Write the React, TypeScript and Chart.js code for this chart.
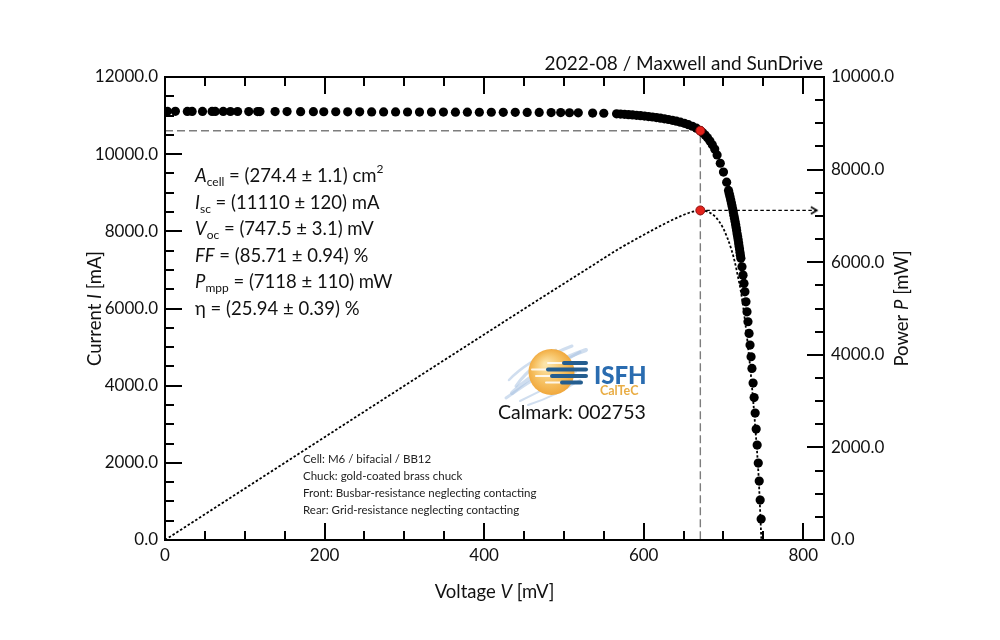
import React, { useEffect, useRef } from "react";
import { Chart, registerables } from "chart.js";

Chart.register(...registerables);

// ---- Data -------------------------------------------------------------------
// Measured I–V points (voltage in mV, current in mA)
const ivVoltage = [
  3, 13, 28, 34, 47, 59, 63, 73, 82, 91, 105, 116, 119, 138, 153, 170, 186, 199, 214, 229,
  244, 259, 274, 289, 304, 319, 334, 349, 364, 379, 394, 409, 424, 439, 454, 469, 484, 496,
  507, 518, 536, 550,
  566, 571, 576, 581, 586, 591, 596, 601, 606, 611, 616, 621, 626, 631, 636, 641, 646, 651,
  656, 661, 666, 671, 674, 677, 680, 683, 686, 689,
  692, 696, 700, 704,
  706.3, 707.2, 708.1, 709.0, 709.9, 710.7, 711.5, 712.3, 713.0, 713.8, 714.5, 715.2, 715.9,
  716.5, 717.1, 717.8, 718.4, 719.0, 719.5, 720.1, 720.7, 721.2, 721.8,
  723.2, 724.5, 725.7, 726.9, 728.2, 729.5, 730.7, 732.1, 733.3, 734.6, 735.7, 737.1, 738.4,
  739.7, 741.0, 742.2, 743.6, 744.8, 746.0, 747.2,
];
const ivCurrent = [
  11110, 11110, 11109, 11109, 11108, 11108, 11107, 11107, 11106, 11106, 11105, 11105, 11104,
  11104, 11103, 11102, 11101, 11100, 11099, 11098, 11097, 11096, 11095, 11094, 11093, 11092,
  11091, 11090, 11089, 11088, 11087, 11086, 11085, 11084, 11083, 11081, 11079, 11077, 11074,
  11071, 11066, 11060,
  11046, 11039, 11032, 11024, 11016, 11007, 10997, 10987, 10975, 10963, 10949, 10934, 10917,
  10898, 10878, 10855, 10829, 10800, 10765, 10724, 10673, 10608, 10557, 10496, 10424, 10340,
  10244, 10133,
  9980, 9765, 9535, 9275,
  9060, 8980, 8900, 8820, 8740, 8660, 8580, 8500, 8420, 8340, 8260, 8180, 8100, 8020, 7940,
  7860, 7780, 7700, 7620, 7540, 7460, 7380, 7300,
  7080, 6865, 6650, 6433, 6174, 5915, 5656, 5355, 5052, 4749, 4448, 4067, 3692, 3290, 2876,
  2461, 1995, 1528, 1036, 544,
];

// Power curve (voltage in mV, power in mW)
const powerVoltage = [
  0, 100, 200, 300, 400, 480, 530, 570, 600, 625, 645, 660, 671, 680, 688, 695, 700, 705, 710,
  714, 718, 721.5, 725, 730, 735, 740, 744, 747.5,
];
const powerValue = [
  0, 1111, 2221, 3331, 4438, 5320, 5865, 6300, 6590, 6820, 6985, 7085, 7118, 7090, 7010, 6870,
  6720, 6520, 6270, 6020, 5700, 5400, 5000, 4300, 3450, 2400, 1380, 0,
];

// Maximum power point
const mppVoltage = 671;
const mppCurrent = 10608;
const mppPower = 7118;
const arrowEndVoltage = 817;

// Axes
const voltageMin = 0;
const voltageMax = 826;
const currentMax = 12000;
const powerMax = 10000;
const voltageTicks = [0, 200, 400, 600, 800];
const currentTicks = [0, 2000, 4000, 6000, 8000, 10000, 12000];
const powerTicks = [0, 2000, 4000, 6000, 8000, 10000];

const FONT = "Lato, 'Open Sans', sans-serif";

type Seg = { t: string; style?: "i" | "sub" | "sup"; };

function drawRich(ctx: CanvasRenderingContext2D, segs: Seg[], x: number, y: number, size: number, align: "left" | "center" = "left") {
  const fontFor = (s: Seg) => {
    if (s.style === "i") return `italic ${size}px ${FONT}`;
    if (s.style === "sub" || s.style === "sup") return `${Math.round(size * 0.66)}px ${FONT}`;
    return `${size}px ${FONT}`;
  };
  let total = 0;
  for (const s of segs) {
    ctx.font = fontFor(s);
    total += ctx.measureText(s.t).width;
  }
  let cx = align === "center" ? x - total / 2 : x;
  ctx.textAlign = "left";
  ctx.textBaseline = "alphabetic";
  for (const s of segs) {
    ctx.font = fontFor(s);
    const dy = s.style === "sub" ? size * 0.22 : s.style === "sup" ? -size * 0.48 : 0;
    ctx.fillText(s.t, cx, y + dy);
    cx += ctx.measureText(s.t).width;
  }
}

const decorPlugin = {
  id: "decor",
  afterDraw(chart: any) {
    const { ctx, chartArea: a, scales } = chart;
    const xs = scales.x, ys = scales.y, ys2 = scales.y2;
    ctx.save();

    // frame
    ctx.strokeStyle = "#000";
    ctx.lineWidth = 2;
    ctx.strokeRect(a.left, a.top, a.right - a.left, a.bottom - a.top);

    // inward tick marks
    ctx.lineWidth = 2;
    ctx.beginPath();
    for (let v = 0; v <= 800; v += 50) {
      const px = Math.round(xs.getPixelForValue(v));
      const len = v % 200 === 0 ? 17 : 9;
      ctx.moveTo(px, a.bottom); ctx.lineTo(px, a.bottom - len);
      ctx.moveTo(px, a.top); ctx.lineTo(px, a.top + len);
    }
    for (let v = 0; v <= currentMax; v += 500) {
      const py = Math.round(ys.getPixelForValue(v));
      const len = v % 2000 === 0 ? 17 : 9;
      ctx.moveTo(a.left, py); ctx.lineTo(a.left + len, py);
    }
    for (let v = 0; v <= powerMax; v += 500) {
      const py = Math.round(ys2.getPixelForValue(v));
      const len = v % 2000 === 0 ? 17 : 9;
      ctx.moveTo(a.right, py); ctx.lineTo(a.right - len, py);
    }
    ctx.stroke();

    ctx.fillStyle = "#111";

    // title
    ctx.font = `19px ${FONT}`;
    ctx.textAlign = "right";
    ctx.textBaseline = "alphabetic";
    ctx.fillText("2022-08 / Maxwell and SunDrive", a.right - 1, 70);

    // axis titles
    drawRich(ctx, [{ t: "Voltage " }, { t: "V", style: "i" }, { t: " [mV]" }], (a.left + a.right) / 2, 598, 18.5, "center");
    const midY = (a.top + a.bottom) / 2;
    ctx.save();
    ctx.translate(101, midY);
    ctx.rotate(-Math.PI / 2);
    drawRich(ctx, [{ t: "Current " }, { t: "I", style: "i" }, { t: " [mA]" }], 0, 0, 18.5, "center");
    ctx.restore();
    ctx.save();
    ctx.translate(908, midY);
    ctx.rotate(-Math.PI / 2);
    drawRich(ctx, [{ t: "Power " }, { t: "P", style: "i" }, { t: " [mW]" }], 0, 0, 18.5, "center");
    ctx.restore();

    // parameter block
    const px0 = 195;
    const lines: Seg[][] = [
      [{ t: "A", style: "i" }, { t: "cell", style: "sub" }, { t: " = (274.4 ± 1.1) cm" }, { t: "2", style: "sup" }],
      [{ t: "I", style: "i" }, { t: "sc", style: "sub" }, { t: " = (11110 ± 120) mA" }],
      [{ t: "V", style: "i" }, { t: "oc", style: "sub" }, { t: " = (747.5 ± 3.1) mV" }],
      [{ t: "FF", style: "i" }, { t: " = (85.71 ± 0.94) %" }],
      [{ t: "P", style: "i" }, { t: "mpp", style: "sub" }, { t: " = (7118 ± 110) mW" }],
      [{ t: "η = (25.94 ± 0.39) %" }],
    ];
    lines.forEach((l, i) => drawRich(ctx, l, px0, 182 + i * 26.5, 18.5));

    // logo
    ctx.save();
    ctx.lineCap = "round";
    ctx.strokeStyle = "#A9C3E2";
    const strokes = [
      [506, 398, 540, 374, 580, 352, 3],
      [512, 393, 540, 366, 586, 350, 4],
      [516, 386, 534, 360, 572, 346, 3],
      [520, 401, 548, 388, 576, 372, 2],
      [509, 380, 526, 362, 556, 350, 2.5],
      [528, 405, 556, 396, 580, 380, 2],
    ];
    for (const s of strokes) {
      ctx.globalAlpha = 0.55;
      ctx.lineWidth = s[6];
      ctx.beginPath();
      ctx.moveTo(s[0], s[1]);
      ctx.quadraticCurveTo(s[2], s[3], s[4], s[5]);
      ctx.stroke();
    }
    ctx.globalAlpha = 1;
    const g = ctx.createRadialGradient(546, 364, 2, 551, 372, 24);
    g.addColorStop(0, "#FCE4A8");
    g.addColorStop(0.6, "#F6C061");
    g.addColorStop(1, "#F0A63A");
    ctx.fillStyle = g;
    ctx.beginPath();
    ctx.arc(551.5, 372, 23, 0, Math.PI * 2);
    ctx.fill();
    const bars = [
      [363, 548, 586],
      [369.5, 532, 586],
      [376, 536, 586],
      [382.5, 546, 581],
    ];
    for (const b of bars) {
      ctx.strokeStyle = "rgba(255,255,255,0.85)";
      ctx.lineWidth = 2;
      ctx.beginPath();
      ctx.moveTo(b[1], b[0]); ctx.lineTo(b[1] + 16, b[0]);
      ctx.stroke();
      ctx.strokeStyle = "#245D8F";
      ctx.lineWidth = 4;
      ctx.beginPath();
      ctx.moveTo(b[1] + 16, b[0]); ctx.lineTo(b[2], b[0]);
      ctx.stroke();
    }
    ctx.textAlign = "left";
    ctx.fillStyle = "#2A6CB0";
    ctx.font = `900 24px ${FONT}`;
    ctx.fillText("ISFH", 594, 384);
    ctx.fillStyle = "#E9AD45";
    ctx.font = `bold 12.5px ${FONT}`;
    ctx.fillText("CalTeC", 600, 395);
    ctx.restore();

    ctx.fillStyle = "#111";
    ctx.textAlign = "left";
    ctx.font = `19.5px ${FONT}`;
    ctx.fillText("Calmark: 002753", 498, 419);

    // notes
    ctx.font = `11.5px ${FONT}`;
    ctx.fillStyle = "#222";
    const notes = [
      "Cell: M6 / bifacial / BB12",
      "Chuck: gold-coated brass chuck",
      "Front: Busbar-resistance neglecting contacting",
      "Rear: Grid-resistance neglecting contacting",
    ];
    notes.forEach((n, i) => ctx.fillText(n, 303, 463 + i * 17));

    ctx.restore();
  },
};

export default function App() {
  const ref = useRef<HTMLCanvasElement | null>(null);

  useEffect(() => {
    if (!ref.current) return;

    const arrowHead = document.createElement("canvas");
    arrowHead.width = 14;
    arrowHead.height = 10;
    const actx = arrowHead.getContext("2d")!;
    actx.strokeStyle = "#000";
    actx.lineWidth = 1.6;
    actx.beginPath();
    actx.moveTo(1, 1.5);
    actx.lineTo(7, 5);
    actx.lineTo(1, 8.5);
    actx.stroke();

    const ivPoints = ivVoltage.map((v, i) => ({ x: v, y: ivCurrent[i] }));
    const powerPoints = powerVoltage.map((v, i) => ({ x: v, y: powerValue[i] }));

    const chart = new Chart(ref.current, {
      type: "scatter",
      data: {
        datasets: [
          {
            label: "MPP current",
            data: [{ x: mppVoltage, y: mppCurrent }],
            yAxisID: "y",
            pointRadius: 4.5,
            pointBackgroundColor: "#E3221B",
            pointBorderColor: "#8E1010",
            pointBorderWidth: 1,
            showLine: false,
            order: 0,
          },
          {
            label: "MPP power",
            data: [{ x: mppVoltage, y: mppPower }],
            yAxisID: "y2",
            pointRadius: 4.5,
            pointBackgroundColor: "#E3221B",
            pointBorderColor: "#8E1010",
            pointBorderWidth: 1,
            showLine: false,
            order: 0,
          },
          {
            label: "I-V",
            data: ivPoints,
            yAxisID: "y",
            pointRadius: 4.6,
            pointBackgroundColor: "#000",
            pointBorderColor: "#000",
            pointBorderWidth: 0,
            showLine: false,
            order: 1,
          },
          {
            label: "arrow",
            data: [{ x: mppVoltage, y: mppPower }, { x: arrowEndVoltage, y: mppPower }],
            yAxisID: "y2",
            showLine: true,
            borderColor: "#000",
            borderWidth: 1.2,
            borderDash: [3.5, 2.5],
            pointRadius: (c: any) => (c.dataIndex === 1 ? 5 : 0),
            pointStyle: (c: any) => (c.dataIndex === 1 ? arrowHead : "circle"),
            order: 2,
          },
          {
            label: "Power",
            data: powerPoints,
            yAxisID: "y2",
            showLine: true,
            borderColor: "#000",
            borderWidth: 1.8,
            borderDash: [2.5, 2],
            pointRadius: 0,
            cubicInterpolationMode: "monotone",
            order: 3,
          },
          {
            label: "mpp guides",
            data: [
              { x: voltageMin, y: mppCurrent },
              { x: mppVoltage, y: mppCurrent },
              { x: mppVoltage, y: 0 },
            ],
            yAxisID: "y",
            showLine: true,
            borderColor: "#7d7d7d",
            borderWidth: 1.4,
            borderDash: [8, 4],
            pointRadius: 0,
            order: 4,
          },
        ],
      },
      options: {
        animation: false,
        responsive: false,
        maintainAspectRatio: false,
        events: [],
        layout: { padding: { left: 0, right: 0, top: 77, bottom: 0 } },
        plugins: {
          legend: { display: false },
          tooltip: { enabled: false },
          title: { display: false },
        },
        scales: {
          x: {
            type: "linear",
            position: "bottom",
            min: voltageMin,
            max: voltageMax,
            afterFit: (s: any) => { s.height = 100; },
            afterBuildTicks: (s: any) => { s.ticks = voltageTicks.map((v) => ({ value: v })); },
            grid: { display: false, drawTicks: false },
            border: { display: false },
            ticks: {
              padding: 5,
              color: "#111",
              font: { family: FONT, size: 17 },
              callback: (v: any) => String(v),
            },
          },
          y: {
            type: "linear",
            position: "left",
            min: 0,
            max: currentMax,
            afterFit: (s: any) => { s.width = 165; },
            afterBuildTicks: (s: any) => { s.ticks = currentTicks.map((v) => ({ value: v })); },
            grid: { display: false, drawTicks: false },
            border: { display: false },
            ticks: {
              padding: 7,
              color: "#111",
              font: { family: FONT, size: 17 },
              callback: (v: any) => Number(v).toFixed(1),
            },
          },
          y2: {
            type: "linear",
            position: "right",
            min: 0,
            max: powerMax,
            afterFit: (s: any) => { s.width = 176; },
            afterBuildTicks: (s: any) => { s.ticks = powerTicks.map((v) => ({ value: v })); },
            grid: { display: false, drawTicks: false },
            border: { display: false },
            ticks: {
              padding: 7,
              color: "#111",
              font: { family: FONT, size: 17 },
              callback: (v: any) => Number(v).toFixed(1),
            },
          },
        },
      } as any,
      plugins: [decorPlugin],
    });

    return () => chart.destroy();
  }, []);

  return (
    <div style={{ position: "absolute", left: 0, top: 0, width: 1000, height: 640, background: "#fff" }}>
      <canvas ref={ref} width={1000} height={640} style={{ display: "block" }} />
    </div>
  );
}
